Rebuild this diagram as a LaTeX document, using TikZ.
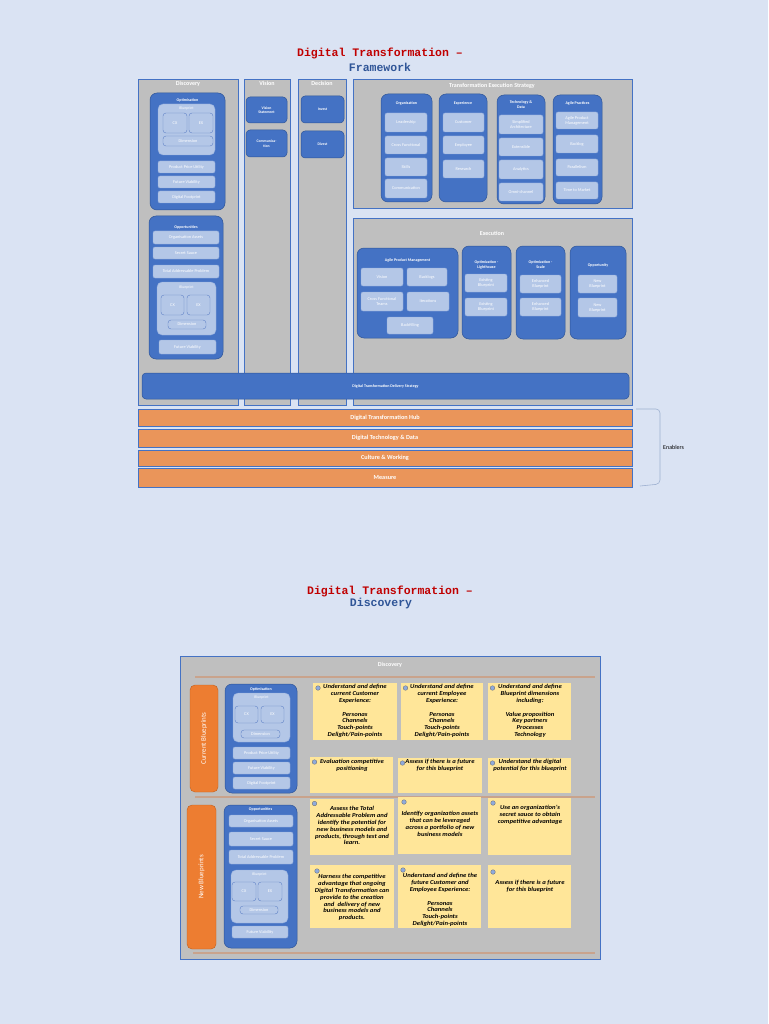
\documentclass[tikz,border=0pt]{standalone}
\usepackage{fontspec}
\setmainfont{Carlito}
\newfontfamily\ttlfont{Liberation Mono}
\newfontfamily\handfont{Carlito}[FakeStretch=1.1]
\usetikzlibrary{calc}
\definecolor{bgc}{HTML}{DAE3F3}
\definecolor{panelc}{HTML}{BFBFBF}
\definecolor{pborder}{HTML}{4472C4}
\definecolor{bblue}{HTML}{4472C4}
\definecolor{bblueD}{HTML}{2F5597}
\definecolor{lblue}{HTML}{B4C7E7}
\definecolor{lblueD}{HTML}{8FAADC}
\definecolor{iborder}{HTML}{5F82C6}
\definecolor{orng}{HTML}{EA955A}
\definecolor{orngS}{HTML}{ED7D31}
\definecolor{orngD}{HTML}{C0601E}
\definecolor{sticky}{HTML}{FFE699}
\definecolor{rlinec}{HTML}{C9A38C}
\definecolor{tred}{HTML}{C00000}
\definecolor{tblue}{HTML}{2F5597}
\definecolor{brkc}{HTML}{9DB0D0}
\definecolor{pinc}{HTML}{8FAADC}
\newcommand\bx[8][]{%
  \node[#2,anchor=north west,outer sep=0pt,minimum width={(#6)-(#4)},minimum height={(#7)-(#5)},#1] (#3) at (#4,#5) {#8};}
\tikzset{
  panelbox/.style={fill=panelc,draw=pborder,line width=0.7pt,inner sep=0pt},
  ptitle/.style={text=white,font=\bfseries\fontsize{6}{7}\selectfont,inner sep=0pt},
  bluebox/.style={fill=bblue,draw=bblueD,line width=0.5pt,rounded corners=7pt,inner sep=0pt},
  clabel/.style={text=white,font=\bfseries\fontsize{4}{4.8}\selectfont,inner sep=0pt,align=center},
  slabel/.style={text=white,font=\fontsize{3.8}{4.5}\selectfont,inner sep=0pt},
  bpbox/.style={fill=lblue,draw=lblueD,line width=0.4pt,rounded corners=5pt,inner sep=0pt},
  item/.style={fill=lblue,draw=lblueD,line width=0.4pt,rounded corners=2pt,text=white,font=\fontsize{4.3}{5}\selectfont,align=center,inner sep=0.5pt},
  initem/.style={item,draw=iborder,rounded corners=3pt},
  bluesm/.style={fill=bblue,draw=bblueD,line width=0.5pt,rounded corners=4pt,text=white,font=\bfseries\fontsize{3.8}{4.6}\selectfont,align=center,inner sep=0.5pt},
  dbar/.style={fill=bblue,draw=bblueD,line width=0.5pt,rounded corners=4pt,text=white,font=\bfseries\fontsize{4}{5}\selectfont,inner sep=0pt},
  obar/.style={fill=orng,draw=pborder,line width=0.7pt,text=white,font=\bfseries\fontsize{6.2}{7}\selectfont,inner sep=0pt},
  orngbox/.style={fill=orngS,draw=orngD,line width=0.4pt,rounded corners=5pt,inner sep=0pt},
  rotlabel/.style={rotate=90,text=white,font=\fontsize{7}{8}\selectfont,inner sep=0pt},
  note/.style={fill=sticky,draw=none,inner sep=0pt},
  notetext/.style={anchor=north,align=center,inner sep=0pt,font=\handfont\bfseries\itshape\fontsize{6.1}{6.8}\selectfont,text=black},
  pin/.style={circle,fill=pinc,draw=gray!80!black,line width=0.3pt,minimum size=4.6pt,inner sep=0pt},
  titlered/.style={text=tred,font=\ttlfont\bfseries\fontsize{11.5}{13}\selectfont,inner sep=0pt},
  titleblue/.style={text=tblue,font=\ttlfont\bfseries\fontsize{11.5}{13}\selectfont,inner sep=0pt},
  brk/.style={draw=brkc,line width=0.6pt,rounded corners=4pt},
  rline/.style={draw=rlinec,line width=1.2pt}
}
\begin{document}
\begin{tikzpicture}[x=1pt,y=-1pt]
\useasboundingbox (0,0) rectangle (768,1024);
\fill[bgc] (0,0) rectangle (768,1024);

% ---------- Title 1
\node[titlered] (t1a) at (380,53) {Digital Transformation –};
\node[titleblue] (t1b) at (380,67) {Framework};

% ---------- Panels
\bx{panelbox}{disc}{138}{79}{238}{405}{}
\bx{panelbox}{vis}{244}{79}{290}{405}{}
\bx{panelbox}{dec}{298}{79}{346}{405}{}
\bx{panelbox}{tes}{353}{79}{632}{208}{}
\bx{panelbox}{exe}{353}{218}{632}{405}{}
\node[ptitle] (discT) at (188,84) {Discovery};
\node[ptitle] (visT) at (267,83) {Vision};
\node[ptitle] (decT) at (322,83) {Decision};
\node[ptitle] (tesT) at (492,86) {Transformation Execution Strategy};
\node[ptitle] (exeT) at (492,233) {Execution};

% ---------- Discovery column
\bx{bluebox}{opt}{150}{93}{225}{210}{}
\node[clabel] (optL) at (187.5,100) {Optimisation};
\bx{bpbox}{bpa}{158}{104}{215}{155}{}
\node[slabel] (bpaL) at (186.5,108.5) {Blueprint};
\bx{initem}{cxa}{163}{113}{187}{133}{CX}
\bx{initem}{exa}{189}{113}{213}{133}{EX}
\bx{initem}{dima}{163}{136}{213}{146}{Dimension}
\bx{item}{ppua}{158}{161}{215}{173}{Product Price Utility}
\bx{item}{fva}{158}{176}{215}{188}{Future Viability}
\bx{item}{dfa}{158}{191}{215}{203}{Digital Footprint}

\bx{bluebox}{opp}{149}{216}{223}{359}{}
\node[clabel] (oppL) at (186,227) {Opportunities};
\bx{item}{oaa}{153}{231}{219}{244}{Organisation Assets}
\bx{item}{ssa}{153}{247}{219}{259}{Secret Sauce}
\bx{item}{tapa}{153}{265}{219}{278}{Total Addressable Problem}
\bx{bpbox}{bpb}{157}{282}{216}{335}{}
\node[slabel] (bpbL) at (186.5,287) {Blueprint};
\bx{initem}{cxb}{161}{295}{184}{315}{CX}
\bx{initem}{exb}{187}{295}{210}{315}{EX}
\bx{initem}{dimb}{168}{320}{206}{329}{Dimension}
\bx{item}{fvb}{159}{340}{216}{354}{Future Viability}

% ---------- Vision / Decision
\bx{bluesm}{vs}{246}{97}{287}{123}{Vision\\Statement}
\bx{bluesm}{com}{246}{130}{287}{157}{Communica-\\tion}
\bx{bluesm}{inv}{301}{96}{344}{123}{Invest}
\bx{bluesm}{div}{301}{131}{344}{158}{Divest}

% ---------- Transformation Execution Strategy
\bx{bluebox}{orgC}{381}{94}{432}{202}{}
\node[clabel] (orgL) at (406.5,103) {Organisation};
\bx{item}{lead}{385}{113}{427}{132}{Leadership}
\bx{item}{cfo}{385}{136}{427}{154}{Cross Functional}
\bx{item}{skl}{385}{158}{427}{176}{Skills}
\bx{item}{comm}{385}{179}{427}{198}{Communication}

\bx{bluebox}{expC}{439}{94}{487}{202}{}
\node[clabel] (expL) at (463,103) {Experience};
\bx{item}{cust}{443}{113}{484}{132}{Customer}
\bx{item}{empl}{443}{136}{484}{154}{Employee}
\bx{item}{rsch}{443}{160}{484}{178}{Research}

\bx{bluebox}{tdC}{497}{95}{545}{204}{}
\node[clabel] (tdL) at (521,104.5) {Technology \&\\Data};
\bx{item}{sarch}{499}{115}{543}{134}{Simplified\\Architecture}
\bx{item}{extn}{499}{138}{543}{156}{Extensible}
\bx{item}{anly}{499}{160}{543}{179}{Analytics}
\bx{item}{omni}{499}{183}{543}{201}{Omni-channel}

\bx{bluebox}{apC}{553}{95}{602}{204}{}
\node[clabel] (apL) at (577.5,103) {Agile Practices};
\bx{item}{apmi}{556}{112}{598}{129}{Agile Product\\Management}
\bx{item}{blog}{556}{135}{598}{153}{Backlog}
\bx{item}{para}{556}{159}{598}{176}{Parallelism}
\bx{item}{ttm}{556}{182}{598}{199}{Time to Market}

% ---------- Execution
\bx{bluebox}{apm}{357}{248}{458}{338}{}
\node[clabel] (apmL) at (407.5,260) {Agile Product Management};
\bx{item}{xvis}{361}{268}{403}{286}{Vision}
\bx{item}{xblg}{407}{268}{447}{286}{Backlogs}
\bx{item}{xcft}{361}{292}{403}{311}{Cross Functional\\Teams}
\bx{item}{xitr}{407}{292}{449}{311}{Iterations}
\bx{item}{xbkf}{387}{317}{433}{334}{Backfilling}

\bx{bluebox}{olh}{462}{246}{511}{339}{}
\node[clabel] (olhL) at (486.5,265) {Optimization -\\Lighthouse};
\bx{item}{eb1}{465}{274}{507}{292}{Existing\\Blueprint}
\bx{item}{eb2}{465}{298}{507}{316}{Existing\\Blueprint}

\bx{bluebox}{osc}{516}{246}{565}{339}{}
\node[clabel] (oscL) at (540.5,265) {Optimization -\\Scale};
\bx{item}{hb1}{520}{275}{561}{293}{Enhanced\\Blueprint}
\bx{item}{hb2}{520}{298}{561}{316}{Enhanced\\Blueprint}

\bx{bluebox}{opC}{570}{246}{626}{339}{}
\node[clabel] (opL) at (598,265) {Opportunity};
\bx{item}{nb1}{578}{275}{617}{293}{New\\Blueprint}
\bx{item}{nb2}{578}{298}{617}{317}{New\\Blueprint}

% ---------- Delivery strategy bar and enablers
\bx{dbar}{dts}{142}{373}{629}{399}{Digital Transformation Delivery Strategy}
\bx{obar}{hub}{138}{409}{632}{426}{Digital Transformation Hub}
\bx{obar}{tech}{138}{429}{632}{447}{Digital Technology \& Data}
\bx{obar}{cult}{138}{450}{632}{466}{Culture \& Working}
\bx{obar}{meas}{138}{468}{632}{487}{Measure}
\coordinate (brkA) at (636,409);
\coordinate (brkB) at (640,486);
\draw[brk] (brkA) -- (660,409) -- (660,484) -- (brkB);
\node[font=\fontsize{6}{7}\selectfont,text=black,inner sep=0pt,anchor=west] (enab) at (663,447) {Enablers};

% ---------- Title 2
\node[titlered] (t2a) at (390,591) {Digital Transformation –};
\node[titleblue] (t2b) at (381,604) {Discovery};

% ---------- Discovery detail panel
\bx[line width=0.9pt]{panelbox}{disc2}{180}{656}{600}{959}{}
\node[ptitle] (disc2T) at (390,665) {Discovery};
\coordinate (l1a) at (195,677); \coordinate (l1b) at (595,677);
\coordinate (l2a) at (195,797); \coordinate (l2b) at (595,797);
\coordinate (l3a) at (193,953); \coordinate (l3b) at (595,953);
\draw[rline] (l1a) -- (l1b);
\draw[rline] (l2a) -- (l2b);
\draw[rline] (l3a) -- (l3b);

\bx{orngbox}{cb}{190}{685}{218}{792}{}
\node[rotlabel] (cbL) at (cb.center) {Current Blueprints};
\bx{orngbox}{nbx}{187}{805}{216}{949}{}
\node[rotlabel] (nbL) at (nbx.center) {New Blueprints};

\bx{bluebox}{optc}{225}{684}{297}{793}{}
\node[clabel] (optcL) at (261,689) {Optimisation};
\bx{bpbox}{bpc}{233}{693}{290}{742}{}
\node[slabel] (bpcL) at (261.5,697.5) {Blueprint};
\bx{initem}{cxc}{235}{706}{258}{723}{CX}
\bx{initem}{exc}{261}{706}{284}{723}{EX}
\bx{initem}{dimc}{241}{730}{280}{738}{Dimension}
\bx{item}{ppuc}{233}{747}{290}{759}{Product Price Utility}
\bx{item}{fvc}{233}{762}{290}{774}{Future Viability}
\bx{item}{dfc}{233}{777}{290}{789}{Digital Footprint}

\bx{bluebox}{oppd}{224}{805}{297}{948}{}
\node[clabel] (oppdL) at (260.5,809.5) {Opportunities};
\bx{item}{oad}{229}{815}{293}{827}{Organisation Assets}
\bx{item}{ssd}{229}{832}{293}{846}{Secret Sauce}
\bx{item}{tapd}{229}{850}{293}{864}{Total Addressable Problem}
\bx{bpbox}{bpd}{231}{870}{288}{923}{}
\node[slabel] (bpdL) at (259.5,874.5) {Blueprint};
\bx{initem}{cxd}{232}{882}{256}{901}{CX}
\bx{initem}{exd}{258}{882}{282}{901}{EX}
\bx{initem}{dimd}{240}{906}{278}{914}{Dimension}
\bx{item}{fvd}{232}{926}{288}{938}{Future Viability}

% ---------- Sticky notes
\bx{note}{n11}{313}{683}{397}{740}{}
\bx{note}{n12}{401}{683}{483}{740}{}
\bx{note}{n13}{488}{683}{571}{740}{}
\bx{note}{n21}{310}{757}{393}{793}{}
\bx{note}{n22}{398}{758}{482}{793}{}
\bx{note}{n23}{488}{758}{571}{793}{}
\bx{note}{n31}{310}{799}{394}{855}{}
\bx{note}{n32}{398}{797}{481}{854}{}
\bx{note}{n33}{488}{798}{571}{855}{}
\bx{note}{n41}{310}{865}{394}{928}{}
\bx{note}{n42}{398}{865}{481}{928}{}
\bx{note}{n43}{488}{865}{571}{928}{}

\node[pin] (p11) at (318,688) {};
\node[pin] (p12) at (405.5,688) {};
\node[pin] (p13) at (492.5,688) {};
\node[pin] (p21) at (314.5,762) {};
\node[pin] (p22) at (402.5,763) {};
\node[pin] (p23) at (492.5,763) {};
\node[pin] (p31) at (314.5,803.5) {};
\node[pin] (p32) at (404,802) {};
\node[pin] (p33) at (493,803) {};
\node[pin] (p41) at (317,871) {};
\node[pin] (p42) at (403,870) {};
\node[pin] (p43) at (493,872) {};

\node[notetext] (n11t) at (355,684.5) {Understand and define\\current Customer\\Experience:\\[6.8pt]Personas\\Channels\\Touch-points\\Delight/Pain-points};
\node[notetext] (n12t) at (442,684.5) {Understand and define\\current Employee\\Experience:\\[6.8pt]Personas\\Channels\\Touch-points\\Delight/Pain-points};
\node[notetext] (n13t) at (530,684.5) {Understand and define\\Blueprint dimensions\\including:\\[6.8pt]Value proposition\\Key partners\\Processes\\Technology};
\node[notetext] (n21t) at (352,759) {Evaluation competitive\\positioning};
\node[notetext] (n22t) at (440,759.5) {Assess if there is a future\\for this blueprint};
\node[notetext] (n23t) at (530,759.5) {Understand the digital\\potential for this blueprint};
\node[notetext] (n31t) at (352,806.5) {Assess the Total\\Addressable Problem and\\identify the potential for\\new business models and\\products, through test and\\learn.};
\node[notetext] (n32t) at (440,811.5) {Identify organization assets\\that can be leveraged\\across a portfolio of new\\business models};
\node[notetext] (n33t) at (530,805.5) {Use an organization's\\secret sauce to obtain\\competitive advantage};
\node[notetext] (n41t) at (352,874.5) {Harness the competitive\\advantage that ongoing\\Digital Transformation can\\provide to the creation\\and\ \ delivery of new\\business models and\\products.};
\node[notetext] (n42t) at (440,873.5) {Understand and define the\\future Customer and\\Employee Experience:\\[6.8pt]Personas\\Channels\\Touch-points\\Delight/Pain-points};
\node[notetext] (n43t) at (530,880.5) {Assess if there is a future\\for this blueprint};
\end{tikzpicture}
\end{document}
